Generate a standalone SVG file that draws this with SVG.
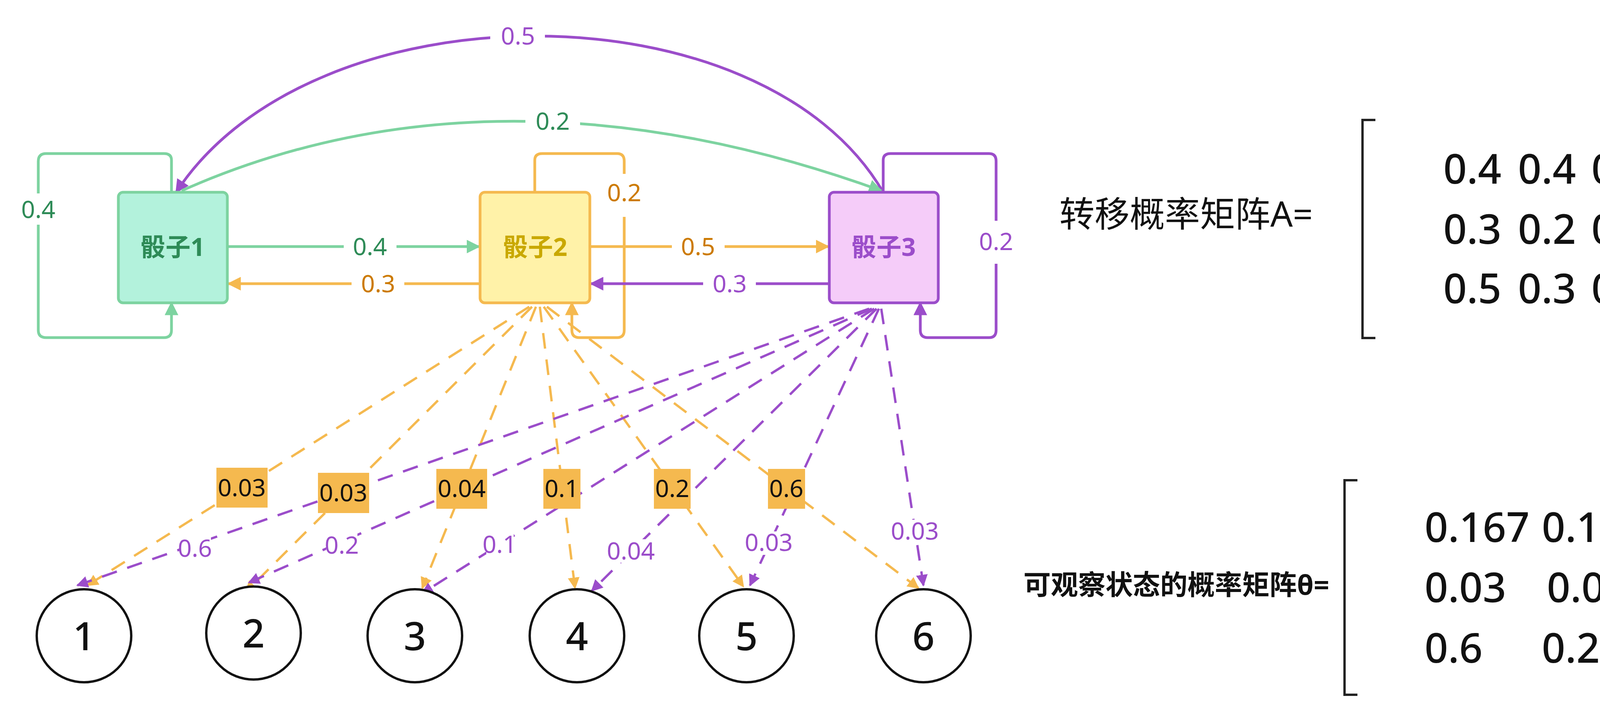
<svg xmlns="http://www.w3.org/2000/svg" width="5502" height="1817" viewBox="0 0 5502 1817">
<style>
text{font-family:"Noto Sans","Noto Sans CJK SC",sans-serif}
.g{stroke:#7dd3a0;fill:none;stroke-width:7}
.o{stroke:#f5b94f;fill:none;stroke-width:7}
.p{stroke:#9b4dca;fill:none;stroke-width:7}
.od{stroke:#f5b94f;fill:none;stroke-width:6;stroke-dasharray:40 28}
.pd{stroke:#9b4dca;fill:none;stroke-width:6;stroke-dasharray:40 28}
.lg{fill:#2e8b57;font-size:62px;text-anchor:middle}
.lo{fill:#cc7a00;font-size:62px;text-anchor:middle}
.lp{fill:#9b4dca;font-size:62px;text-anchor:middle}
.bl{font-size:62px;text-anchor:middle;fill:#111}
.num{font-size:105px;font-weight:500;fill:#111}
.br{stroke:#222;stroke-width:6;fill:none}
</style>
<defs>
<marker id="ag" viewBox="0 0 10 10" refX="9" refY="5" markerWidth="5" markerHeight="5" orient="auto"><path d="M0,0L10,5L0,10z" fill="#7dd3a0"/></marker>
<marker id="ao" viewBox="0 0 10 10" refX="9" refY="5" markerWidth="5" markerHeight="5" orient="auto"><path d="M0,0L10,5L0,10z" fill="#f5b94f"/></marker>
<marker id="ap" viewBox="0 0 10 10" refX="9" refY="5" markerWidth="5" markerHeight="5" orient="auto"><path d="M0,0L10,5L0,10z" fill="#9b4dca"/></marker>
</defs>
<rect width="5502" height="1817" fill="#fff"/>
<g id="connectors">
<path class="p" d="M2261,492 C1950,-41 800,-41 451,492" marker-end="url(#ap)"/>
<rect x="1255" y="55" width="140" height="80" fill="#fff"/>
<text class="lp" x="1326" y="114">0.5</text>
<path class="g" d="M465,488 C1000,251 1600,251 2256,488" marker-end="url(#ag)"/>
<rect x="1345" y="270" width="140" height="80" fill="#fff"/>
<text class="lg" x="1415" y="332">0.2</text>
<path class="g" d="M439,491 V410 Q439,393 420,393 H118 Q98,393 98,413 V845 Q98,864 118,864 H420 Q439,864 439,845 V775" marker-end="url(#ag)"/>
<rect x="60" y="495" width="80" height="80" fill="#fff"/>
<text class="lg" x="98" y="558">0.4</text>
<path class="o" d="M1369,491 V410 Q1369,393 1388,393 H1580 Q1598,393 1598,412 V845 Q1598,864 1580,864 H1483 Q1464,864 1464,845 V775" marker-end="url(#ao)"/>
<rect x="1558" y="445" width="80" height="110" fill="#fff"/>
<text class="lo" x="1598" y="515">0.2</text>
<path class="p" d="M2261,491 V410 Q2261,393 2280,393 H2532 Q2550,393 2550,412 V845 Q2550,864 2532,864 H2375 Q2356,864 2356,845 V775" marker-end="url(#ap)"/>
<rect x="2510" y="565" width="80" height="110" fill="#fff"/>
<text class="lp" x="2550" y="640">0.2</text>
<path class="g" d="M582,631 H1226" marker-end="url(#ag)"/>
<rect x="880" y="595" width="135" height="70" fill="#fff"/>
<text class="lg" x="947" y="653">0.4</text>
<path class="o" d="M1229,726 H585" marker-end="url(#ao)"/>
<rect x="900" y="690" width="135" height="70" fill="#fff"/>
<text class="lo" x="968" y="748">0.3</text>
<path class="o" d="M1510,631 H2120" marker-end="url(#ao)"/>
<rect x="1720" y="595" width="135" height="70" fill="#fff"/>
<text class="lo" x="1787" y="653">0.5</text>
<path class="p" d="M2123,726 H1513" marker-end="url(#ap)"/>
<rect x="1800" y="690" width="135" height="70" fill="#fff"/>
<text class="lp" x="1868" y="748">0.3</text>
<path class="od" d="M1355,785 L224,1498" marker-end="url(#ao)"/>
<path class="od" d="M1362,785 L629,1515" marker-end="url(#ao)"/>
<path class="od" d="M1372,785 L1081,1505" marker-end="url(#ao)"/>
<path class="od" d="M1382,785 L1472,1505" marker-end="url(#ao)"/>
<path class="od" d="M1392,785 L1903,1501" marker-end="url(#ao)"/>
<path class="od" d="M1400,785 L2351,1505" marker-end="url(#ao)"/>
<path class="pd" d="M2225,790 L198,1498" marker-end="url(#ap)"/>
<path class="pd" d="M2232,790 L637,1491" marker-end="url(#ap)"/>
<path class="pd" d="M2238,790 L1081,1518" marker-end="url(#ap)"/>
<path class="pd" d="M2244,790 L1515,1512" marker-end="url(#ap)"/>
<path class="pd" d="M2250,790 L1920,1498" marker-end="url(#ap)"/>
<path class="pd" d="M2256,790 L2364,1498" marker-end="url(#ap)"/>
<g fill="#f5b94f">
<rect x="554" y="1197" width="131" height="102"/>
<rect x="814" y="1210" width="131" height="103"/>
<rect x="1117" y="1200" width="130" height="102"/>
<rect x="1391" y="1200" width="95" height="102"/>
<rect x="1674" y="1200" width="94" height="102"/>
<rect x="1966" y="1200" width="95" height="102"/>
</g>
<text class="bl" x="619" y="1270">0.03</text>
<text class="bl" x="879" y="1283">0.03</text>
<text class="bl" x="1182" y="1272">0.04</text>
<text class="bl" x="1438" y="1272">0.1</text>
<text class="bl" x="1721" y="1272">0.2</text>
<text class="bl" x="2013" y="1272">0.6</text>
<g fill="#fff"><rect x="460" y="1375" width="80" height="60"/><rect x="835" y="1365" width="80" height="60"/><rect x="1245" y="1365" width="70" height="60"/><rect x="1560" y="1380" width="110" height="60"/><rect x="1915" y="1360" width="110" height="60"/><rect x="2290" y="1330" width="110" height="60"/></g>
<text class="lp" x="499" y="1425">0.6</text>
<text class="lp" x="875" y="1417">0.2</text>
<text class="lp" x="1279" y="1415">0.1</text>
<text class="lp" x="1615" y="1432">0.04</text>
<text class="lp" x="1968" y="1410">0.03</text>
<text class="lp" x="2342" y="1381">0.03</text>
</g>
<g id="n1"><rect x="303" y="492" width="279" height="283" rx="12" fill="#b3f2dc" stroke="#7dd3a0" stroke-width="7"/><text x="442" y="655" font-size="64" font-weight="bold" fill="#2e8b57" text-anchor="middle">骰子1</text></g>
<g id="n2"><rect x="1229" y="492" width="281" height="283" rx="12" fill="#fff2a8" stroke="#f5b94f" stroke-width="7"/><text x="1370" y="655" font-size="64" font-weight="bold" fill="#c9a800" text-anchor="middle">骰子2</text></g>
<g id="n3"><rect x="2123" y="492" width="279" height="283" rx="12" fill="#f5ccf9" stroke="#9b4dca" stroke-width="7"/><text x="2262" y="655" font-size="64" font-weight="bold" fill="#9b4dca" text-anchor="middle">骰子3</text></g>
<g id="o1"><ellipse cx="215" cy="1627" rx="121" ry="119" fill="#fff" stroke="#111" stroke-width="6"/><text x="215" y="1664" font-size="100" font-weight="500" text-anchor="middle" fill="#111">1</text></g>
<g id="o2"><ellipse cx="649" cy="1620" rx="121" ry="119" fill="#fff" stroke="#111" stroke-width="6"/><text x="649" y="1657" font-size="100" font-weight="500" text-anchor="middle" fill="#111">2</text></g>
<g id="o3"><ellipse cx="1062" cy="1627" rx="121" ry="119" fill="#fff" stroke="#111" stroke-width="6"/><text x="1062" y="1664" font-size="100" font-weight="500" text-anchor="middle" fill="#111">3</text></g>
<g id="o4"><ellipse cx="1477" cy="1627" rx="121" ry="119" fill="#fff" stroke="#111" stroke-width="6"/><text x="1477" y="1664" font-size="100" font-weight="500" text-anchor="middle" fill="#111">4</text></g>
<g id="o5"><ellipse cx="1911" cy="1627" rx="121" ry="119" fill="#fff" stroke="#111" stroke-width="6"/><text x="1911" y="1664" font-size="100" font-weight="500" text-anchor="middle" fill="#111">5</text></g>
<g id="o6"><ellipse cx="2364" cy="1627" rx="121" ry="119" fill="#fff" stroke="#111" stroke-width="6"/><text x="2364" y="1664" font-size="100" font-weight="500" text-anchor="middle" fill="#111">6</text></g>
<g id="matrixA">
<text x="2712" y="580" font-size="90" fill="#111">转移概率矩阵A=</text>
<path class="br" d="M3521,307 H3488 V865 H3521 M4358,307 H4391 V865 H4358"/>
<text class="num" x="3695" y="470">0.4</text><text class="num" x="3886" y="470">0.4</text><text class="num" x="4074" y="470">0.2</text>
<text class="num" x="3695" y="624">0.3</text><text class="num" x="3886" y="624">0.2</text><text class="num" x="4074" y="624">0.5</text>
<text class="num" x="3695" y="776">0.5</text><text class="num" x="3886" y="776">0.3</text><text class="num" x="4074" y="776">0.2</text>
</g>
<g id="matrixTheta">
<text x="2620" y="1522" font-size="70" font-weight="bold" fill="#111">可观察状态的概率矩阵θ=</text>
<path class="br" d="M3475,1229 H3442 V1778 H3475 M5425,1229 H5458 V1778 H5425"/>
<text class="num" x="3647" y="1387">0.167</text><text class="num" x="3947" y="1387">0.167</text><text class="num" x="4250" y="1387">0.167</text><text class="num" x="4554" y="1387">0.167</text><text class="num" x="4857" y="1387">0.167</text><text class="num" x="5162" y="1387">0.167</text>
<text class="num" x="3647" y="1541">0.03</text><text class="num" x="3960" y="1541">0.03</text><text class="num" x="4278" y="1541">0.04</text><text class="num" x="4594" y="1541">0.1</text><text class="num" x="4872" y="1541">0.2</text><text class="num" x="5159" y="1541">0.6</text>
<text class="num" x="3647" y="1696">0.6</text><text class="num" x="3947" y="1696">0.2</text><text class="num" x="4278" y="1696">0.1</text><text class="num" x="4585" y="1696">0.04</text><text class="num" x="4872" y="1696">0.03</text><text class="num" x="5162" y="1696">0.03</text>
</g>
<text x="4330" y="1660" font-size="150" fill="#fff" fill-opacity="0.85" stroke="#bbb" stroke-width="3">知乎 @欧阳静</text>
</svg>
